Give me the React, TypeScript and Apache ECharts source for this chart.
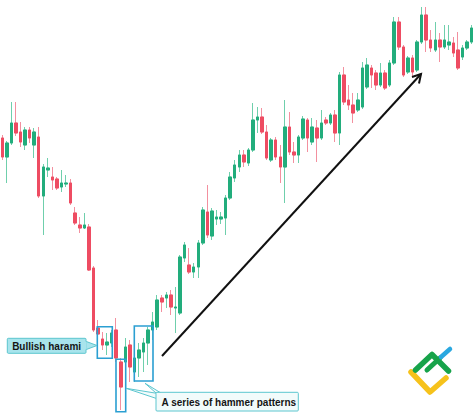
import React, { useEffect, useRef } from "react";
import * as echarts from "echarts";

// Daily OHLC prices (arbitrary units), one entry per session
const opens = [
  281, 262, 276, 296, 287, 274, 289, 274, 282, 223, 249, 242, 240, 232, 235, 236, 206, 194, 191, 192,
  151, 91, 80, 74, 76, 89, 57, 57, 74, 47, 61, 67, 76, 89, 92, 121, 121, 124, 111, 106,
  161, 154, 147, 152, 176, 207, 183, 200, 200, 201, 221, 241, 252, 264, 256, 269, 299, 302, 287, 259,
  279, 262, 252, 292, 267, 264, 281, 299, 277, 291, 281, 299, 296, 304, 286, 344, 319, 314, 309, 312,
  332, 351, 346, 334, 346, 334, 356, 397, 372, 347, 361, 349, 377, 404, 379, 369, 379, 372, 374, 376,
  369, 362, 371, 377,
];
const closes = [
  262, 276, 296, 286, 277, 289, 281, 287, 223, 252, 251, 239, 231, 236, 236, 216, 196, 191, 194, 149,
  89, 85, 74, 77, 86, 61, 32, 72, 52, 61, 69, 76, 89, 97, 119, 117, 124, 112, 112, 162,
  174, 147, 152, 176, 209, 184, 208, 202, 202, 221, 242, 254, 264, 257, 269, 299, 302, 287, 261, 279,
  262, 252, 292, 267, 264, 282, 300, 281, 292, 281, 296, 296, 304, 286, 344, 317, 314, 306, 319, 351,
  354, 344, 334, 346, 331, 356, 397, 372, 344, 361, 347, 377, 404, 379, 371, 379, 372, 379, 377, 366,
  351, 371, 377, 391,
];
const lows = [
  259, 236, 274, 283, 272, 269, 276, 261, 221, 184, 242, 229, 229, 227, 232, 214, 194, 186, 190, 148,
  87, 81, 69, 64, 72, 57, 9, 36, 37, 37, 42, 47, 54, 79, 89, 107, 111, 104, 86, 104,
  157, 145, 141, 141, 174, 181, 179, 194, 195, 184, 219, 237, 247, 252, 253, 267, 286, 285, 259, 257,
  259, 236, 216, 264, 256, 256, 279, 267, 274, 257, 279, 294, 294, 277, 274, 314, 309, 296, 307, 310,
  330, 331, 329, 332, 329, 332, 354, 369, 342, 345, 342, 347, 375, 367, 367, 367, 357, 370, 369, 362,
  349, 359, 369, 375,
];
const highs = [
  284, 278, 317, 317, 297, 292, 292, 291, 292, 255, 261, 252, 242, 249, 244, 240, 212, 202, 206, 195,
  153, 99, 87, 86, 89, 101, 61, 81, 79, 72, 76, 81, 92, 107, 124, 124, 127, 129, 132, 164,
  177, 171, 156, 179, 212, 234, 211, 209, 207, 224, 247, 259, 269, 269, 271, 316, 312, 311, 294, 281,
  282, 274, 319, 307, 277, 284, 303, 301, 301, 299, 309, 302, 306, 309, 347, 352, 334, 326, 326, 357,
  361, 354, 349, 356, 349, 359, 402, 402, 374, 363, 364, 379, 412, 412, 389, 397, 386, 394, 394, 382,
  387, 374, 379, 394,
];
const sessions = opens.map((_, i) => `D${i + 1}`);

const UP = "#22ad7c";
const DOWN = "#ee4c62";
const UP_WICK = "#6fcfac";
const DOWN_WICK = "#f3909f";
const BOX = "#2b9fd2";
const CALLOUT_EDGE = "#5cc6cf";
const FONT = "'Liberation Sans', Arial, sans-serif";

export default function App() {
  const ref = useRef<HTMLDivElement>(null);

  useEffect(() => {
    const chart = echarts.init(ref.current!, null, { renderer: "svg" });
    const ohlc = opens.map((o, i) => [o, closes[i], lows[i], highs[i]]);
    // body-only candles: range clipped to open/close so no wick is drawn
    const bodies = opens.map((o, i) => [o, closes[i], Math.min(o, closes[i]), Math.max(o, closes[i])]);

    const box = (x: number, y: number, w: number, h: number) => ({
      type: "rect",
      z: 100,
      shape: { x, y, width: w, height: h },
      style: { fill: "none", stroke: BOX, lineWidth: 1.6 },
    });

    chart.setOption({
      animation: false,
      backgroundColor: "#ffffff",
      grid: { left: 0, right: 0, top: 0, bottom: 0 },
      xAxis: { type: "category", data: sessions, show: false, boundaryGap: true },
      yAxis: { type: "value", min: 0, max: 419, show: false },
      series: [
        {
          name: "wicks",
          type: "candlestick",
          data: ohlc,
          barWidth: 3,
          itemStyle: {
            color: UP_WICK,
            color0: DOWN_WICK,
            borderColor: UP_WICK,
            borderColor0: DOWN_WICK,
            borderWidth: 1,
          },
        },
        {
          name: "bodies",
          type: "candlestick",
          data: bodies,
          barWidth: 3,
          itemStyle: {
            color: UP,
            color0: DOWN,
            borderColor: UP,
            borderColor0: DOWN,
            borderWidth: 1,
          },
        },
      ],
      graphic: [
        // pattern highlight boxes
        box(97.3, 326.7, 15, 31.6),
        box(116, 359.3, 9.7, 52.4),
        box(134.3, 326, 18.7, 55),
        // trend arrow
        {
          type: "line",
          z: 100,
          shape: { x1: 162, y1: 356, x2: 421, y2: 74 },
          style: { stroke: "#111", lineWidth: 2 },
        },
        {
          type: "polyline",
          z: 100,
          shape: { points: [[412, 77], [421, 74], [419, 83.5]] },
          style: { stroke: "#111", lineWidth: 2, fill: "none" },
        },
        // "Bullish harami" callout
        {
          type: "polygon",
          z: 101,
          shape: { points: [[85, 341], [97, 345.5], [85, 350]] },
          style: { fill: "#a8e4ec", stroke: CALLOUT_EDGE, lineWidth: 1 },
        },
        {
          type: "rect",
          z: 102,
          shape: { x: 7.3, y: 338.3, width: 78.7, height: 15, r: 1 },
          style: { fill: "#a8e4ec", stroke: CALLOUT_EDGE, lineWidth: 1 },
        },
        {
          type: "rect",
          z: 103,
          shape: { x: 84, y: 341.5, width: 2.5, height: 8 },
          style: { fill: "#a8e4ec" },
        },
        {
          type: "text",
          z: 104,
          style: {
            text: "Bullish harami",
            x: 46.6,
            y: 346,
            align: "center",
            verticalAlign: "middle",
            font: `bold 10px ${FONT}`,
            fill: "#151515",
          },
        },
        // "A series of hammer patterns" callout
        {
          type: "polygon",
          z: 101,
          shape: { points: [[126, 388.3], [158, 393.5], [158, 399]] },
          style: { fill: "#f2fbfb", stroke: CALLOUT_EDGE, lineWidth: 1 },
        },
        {
          type: "polygon",
          z: 101,
          shape: { points: [[145, 383.3], [156, 393], [161, 393]] },
          style: { fill: "#f2fbfb", stroke: CALLOUT_EDGE, lineWidth: 1 },
        },
        {
          type: "rect",
          z: 102,
          shape: { x: 156, y: 392.3, width: 142.3, height: 18.7, r: 1 },
          style: { fill: "#f2fbfb", stroke: CALLOUT_EDGE, lineWidth: 1 },
        },
        {
          type: "text",
          z: 104,
          style: {
            text: "A series of hammer patterns",
            x: 161.5,
            y: 402,
            align: "left",
            verticalAlign: "middle",
            font: `bold 10px ${FONT}`,
            fill: "#151515",
          },
        },
        // brand mark
        {
          type: "polyline",
          z: 100,
          shape: { points: [[411, 372], [430, 392], [446, 378]] },
          style: { stroke: "#f6c21b", lineWidth: 5.5, fill: "none", lineCap: "round", lineJoin: "round" },
        },
        {
          type: "polyline",
          z: 100,
          shape: { points: [[415.5, 370], [432, 354.5], [448.5, 371]] },
          style: { stroke: "#17a34a", lineWidth: 5.5, fill: "none", lineCap: "round", lineJoin: "round" },
        },
        {
          type: "line",
          z: 100,
          shape: { x1: 427, y1: 370, x2: 440, y2: 358 },
          style: { stroke: "#17a34a", lineWidth: 5, lineCap: "round" },
        },
        {
          type: "line",
          z: 100,
          shape: { x1: 441, y1: 357, x2: 450, y2: 349 },
          style: { stroke: "#2aa8e0", lineWidth: 4.5, lineCap: "round" },
        },
      ],
    });

    return () => chart.dispose();
  }, []);

  return (
    <div
      ref={ref}
      style={{ position: "fixed", left: 0, top: 0, width: 474, height: 419 }}
    />
  );
}
